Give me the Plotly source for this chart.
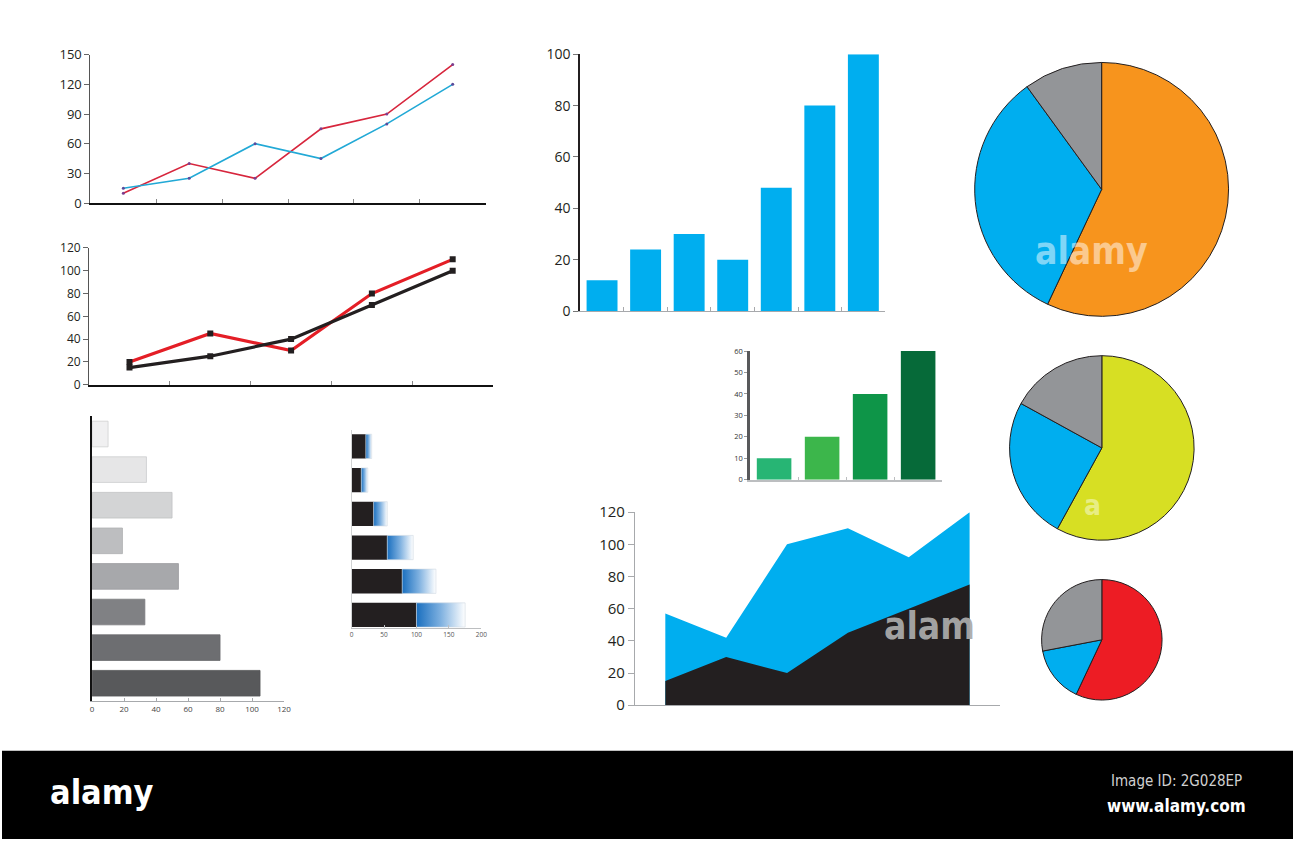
import plotly.graph_objects as go

W, H = 1300, 848
OFF = 0  # body margin is removed by the post script, so page pixels == figure pixels
FONT = "Open Sans, Noto Sans, sans-serif"
NARROW = "Liberation Sans Narrow, DejaVu Sans Condensed, Open Sans, sans-serif"
INK = "#231f20"

# ---------------- data ----------------
# chart 1: thin line chart (top-left)
line1_cats = ["P1", "P2", "P3", "P4", "P5", "P6"]
line1_red = [10, 40, 25, 75, 90, 140]
line1_blue = [15, 25, 60, 45, 80, 120]
line1_yticks = [0, 30, 60, 90, 120, 150]

# chart 2: thick line chart with square markers
line2_cats = ["Q1", "Q2", "Q3", "Q4", "Q5"]
line2_red = [20, 45, 30, 80, 110]
line2_black = [15, 25, 40, 70, 100]
line2_yticks = [0, 20, 40, 60, 80, 100, 120]

# chart 3: grey horizontal bars (top to bottom)
hbar_cats = ["H1", "H2", "H3", "H4", "H5", "H6", "H7", "H8"]
hbar_vals = [10, 34, 50, 19, 54, 33, 80, 105]
hbar_colors = ["#f0f0f1", "#e6e6e7", "#d3d4d5", "#bdbec0", "#a7a8ab", "#808184", "#6d6e71", "#58595b"]
hbar_edges = ["#cfd0d1", "#cdcecf", "#c0c1c3", "#b0b1b3", "#9a9b9e", "#7a7b7e", "#696a6d", "#545557"]
hbar_xticks = [0, 20, 40, 60, 80, 100, 120]

# chart 4: small black + gradient-blue bars (top to bottom)
stack_cats = ["S1", "S2", "S3", "S4", "S5", "S6"]
stack_black = [22, 15, 34, 55, 78, 100]
stack_total = [31, 25, 55, 95, 130, 175]
stack_xticks = [0, 50, 100, 150, 200]

# chart 5: blue column chart
col_cats = ["C1", "C2", "C3", "C4", "C5", "C6", "C7"]
col_vals = [12, 24, 30, 20, 48, 80, 100]
col_yticks = [0, 20, 40, 60, 80, 100]

# chart 6: green column chart
green_cats = ["G1", "G2", "G3", "G4"]
green_vals = [10, 20, 40, 60]
green_colors = ["#27b574", "#3cb64b", "#0e9548", "#066a39"]
green_yticks = [0, 10, 20, 30, 40, 50, 60]

# chart 7: area chart
area_cats = ["A1", "A2", "A3", "A4", "A5", "A6"]
area_blue = [57, 42, 100, 110, 92, 120]
area_black = [15, 30, 20, 45, 60, 75]
area_yticks = [0, 20, 40, 60, 80, 100, 120]

# pies (clockwise from 12 o'clock)
pie1_labels = ["Orange", "Blue", "Grey"]
pie1_vals = [57, 33, 10]
pie1_colors = ["#f7941d", "#00aeef", "#939598"]
pie2_labels = ["Yellow", "Blue", "Grey"]
pie2_vals = [58, 25, 17]
pie2_colors = ["#d7df23", "#00aeef", "#939598"]
pie3_labels = ["Red", "Blue", "Grey"]
pie3_vals = [57, 15, 28]
pie3_colors = ["#ed1c24", "#00aeef", "#939598"]


# ---------------- helpers ----------------
def px(x):
    return (x - OFF) / W


def py(y):
    return 1 - (y - OFF) / H


def xd(a, b):
    return [px(a), px(b)]


def yd(top, bottom):
    return [py(bottom), py(top)]


fig = go.Figure()

# chart 1
fig.add_trace(go.Scatter(x=line1_cats, y=line1_red, mode="lines+markers",
                         line=dict(color="#d7263d", width=1.6),
                         marker=dict(size=3, color="#7b3f8f"), xaxis="x", yaxis="y"))
fig.add_trace(go.Scatter(x=line1_cats, y=line1_blue, mode="lines+markers",
                         line=dict(color="#22a9d6", width=1.6),
                         marker=dict(size=3, color="#5b4a9b"), xaxis="x", yaxis="y"))

# chart 2
fig.add_trace(go.Scatter(x=line2_cats, y=line2_red, mode="lines+markers",
                         line=dict(color="#e41e26", width=3.2),
                         marker=dict(symbol="square", size=6, color=INK), xaxis="x2", yaxis="y2"))
fig.add_trace(go.Scatter(x=line2_cats, y=line2_black, mode="lines+markers",
                         line=dict(color=INK, width=3.2),
                         marker=dict(symbol="square", size=6, color=INK), xaxis="x2", yaxis="y2"))

# chart 3
fig.add_trace(go.Bar(x=hbar_vals, y=hbar_cats, orientation="h",
                     marker=dict(color=hbar_colors, line=dict(color=hbar_edges, width=0.8)),
                     width=0.72, xaxis="x3", yaxis="y3"))

# chart 4
stack_pos = list(range(len(stack_cats)))
half = 0.36
fig.add_trace(go.Bar(x=stack_black, y=stack_pos, orientation="h", width=2 * half,
                     marker=dict(color=INK, line=dict(width=0)), xaxis="x4", yaxis="y4"))
for i, (b, t) in enumerate(zip(stack_black, stack_total)):
    fig.add_trace(go.Scatter(x=[b, t, t, b, b], y=[i - half, i - half, i + half, i + half, i - half],
                             mode="lines", fill="toself",
                             fillgradient=dict(type="horizontal",
                                               colorscale=[[0, "#1a6fbf"], [0.5, "#7fb1e0"], [1, "#ffffff"]]),
                             line=dict(color="#cfd8e2", width=0.6), xaxis="x4", yaxis="y4"))

# chart 5
fig.add_trace(go.Bar(x=col_cats, y=col_vals, marker=dict(color="#00aeef", line=dict(width=0)),
                     width=0.71, xaxis="x5", yaxis="y5"))

# chart 6
fig.add_trace(go.Bar(x=green_cats, y=green_vals, marker=dict(color=green_colors, line=dict(width=0)),
                     width=0.72, xaxis="x6", yaxis="y6"))

# chart 7
fig.add_trace(go.Scatter(x=area_cats, y=area_blue, mode="lines", fill="tozeroy",
                         line=dict(color="#00aeef", width=0), fillcolor="#00aeef",
                         xaxis="x7", yaxis="y7"))
fig.add_trace(go.Scatter(x=area_cats, y=area_black, mode="lines", fill="tozeroy",
                         line=dict(color=INK, width=0), fillcolor=INK,
                         xaxis="x7", yaxis="y7"))


# pies
def pie(labels, vals, colors, cx, cy, r):
    return go.Pie(labels=labels, values=vals, sort=False, direction="clockwise", rotation=0,
                  marker=dict(colors=colors, line=dict(color=INK, width=1)),
                  textinfo="none", hoverinfo="none",
                  domain=dict(x=xd(cx - r, cx + r), y=yd(cy - r, cy + r)))


fig.add_trace(pie(pie1_labels, pie1_vals, pie1_colors, 1107.3, 182.7, 130))
fig.add_trace(pie(pie2_labels, pie2_vals, pie2_colors, 1107.5, 447.5, 94.5))
fig.add_trace(pie(pie3_labels, pie3_vals, pie3_colors, 1107.5, 644, 61.7))

# ---------------- axes ----------------
base = dict(showgrid=False, zeroline=False, fixedrange=True)

layout = dict(
    width=W, height=H, margin=dict(l=0, r=0, t=0, b=0),
    paper_bgcolor="white", plot_bgcolor="rgba(0,0,0,0)", hovermode=False,
    showlegend=False, font=dict(family=FONT, color=INK),
    # chart 1
    xaxis=dict(base, domain=xd(89, 487), anchor="y", type="category", range=[-0.5, 5.5],
               showline=True, linecolor="#111", linewidth=2, tickson="boundaries",
               ticks="inside", ticklen=4, tickcolor="#888", showticklabels=False),
    yaxis=dict(base, domain=yd(44.7, 196.7), anchor="x", range=[0, 150], tickvals=line1_yticks,
               showline=True, linecolor="#555", linewidth=1, ticks="outside", ticklen=5,
               tickcolor="#666", tickfont=dict(size=13, color=INK)),
    # chart 2
    xaxis2=dict(base, domain=xd(87.7, 494.5), anchor="y2", type="category", range=[-0.5, 4.5],
                showline=True, linecolor="#111", linewidth=2, tickson="boundaries",
                ticks="inside", ticklen=4, tickcolor="#888", showticklabels=False),
    yaxis2=dict(base, domain=yd(242.7, 382.7), anchor="x2", range=[0, 120], tickvals=line2_yticks,
                showline=True, linecolor="#555", linewidth=1, ticks="outside", ticklen=5,
                tickcolor="#666", tickfont=dict(size=12, color=INK)),
    # chart 3
    xaxis3=dict(base, domain=xd(90.7, 284), anchor="y3", range=[0, 120], tickvals=hbar_xticks,
                showline=True, linecolor="#a7a9ac", linewidth=1, ticks="inside", ticklen=3,
                tickcolor="#a7a9ac", tickfont=dict(size=8, color="#444")),
    yaxis3=dict(base, domain=yd(415, 706.7), anchor="x3", type="category", range=[7.5, -0.5],
                showline=True, linecolor="#111", linewidth=1.6, showticklabels=False, ticks=""),
    # chart 4
    xaxis4=dict(base, domain=xd(352, 482.7), anchor="y4", range=[0, 200], tickvals=stack_xticks,
                showline=True, linecolor="#bcbec0", linewidth=1, ticks="inside", ticklen=3,
                tickcolor="#bcbec0", tickfont=dict(size=6.5, color="#555")),
    yaxis4=dict(base, domain=yd(429.3, 631.7), anchor="x4", range=[5.38, -0.48],
                showline=True, linecolor="#d1d3d4", linewidth=1, showticklabels=False, ticks=""),
    # chart 5
    xaxis5=dict(base, domain=xd(582.3, 889.3), anchor="y5", type="category", range=[-0.5, 6.5],
                showline=True, linecolor="#a7a9ac", linewidth=1, tickson="boundaries",
                ticks="inside", ticklen=4, tickcolor="#a7a9ac", showticklabels=False),
    yaxis5=dict(base, domain=yd(44.3, 307.3), anchor="x5", range=[0, 100], tickvals=col_yticks,
                showline=True, linecolor=INK, linewidth=2, ticks="outside", ticklen=5,
                tickcolor="#777", tickfont=dict(size=14, color=INK)),
    # chart 6
    xaxis6=dict(base, domain=xd(753.3, 946.7), anchor="y6", type="category", range=[-0.5, 3.5],
                showline=True, linecolor="#bcbec0", linewidth=1.5, tickson="boundaries",
                ticks="inside", ticklen=3, tickcolor="#bcbec0", showticklabels=False),
    yaxis6=dict(base, domain=yd(348.3, 480), anchor="x6", range=[0, 60], tickvals=green_yticks,
                showline=True, linecolor="#58595b", linewidth=2.5, ticks="outside", ticklen=3,
                tickcolor="#999", tickfont=dict(size=7.5, color="#333")),
    # chart 7
    xaxis7=dict(base, domain=xd(637.3, 1005), anchor="y7", type="category", range=[-0.5, 5.5],
                showline=True, linecolor="#a7a9ac", linewidth=1, tickvals=[], showticklabels=False),
    yaxis7=dict(base, domain=yd(513.3, 711), anchor="x7", range=[0, 120], tickvals=area_yticks,
                showline=True, linecolor="#a7a9ac", linewidth=1, ticks="outside", ticklen=6,
                tickcolor="#a7a9ac", tickfont=dict(size=15, color=INK)),
)
fig.update_layout(**layout)

# banner
fig.add_shape(type="rect", xref="paper", yref="paper", x0=0, x1=1, y0=0, y1=py(757.5),
              fillcolor="black", line=dict(width=0), layer="above")

ann = []
ann.append(dict(text="<b>alamy</b>", x=px(101), y=py(800), font=dict(family=NARROW, size=34, color="white")))
ann.append(dict(text="Image ID: 2G028EP", x=px(1183), y=py(789),
                font=dict(family=NARROW, size=15, color="#d0d0d0")))
ann.append(dict(text="<b>www.alamy.com</b>", x=px(1183), y=py(814),
                font=dict(family=NARROW, size=17, color="white")))
# watermarks
ann.append(dict(text="<b>alamy</b>", x=px(1097), y=py(246),
                font=dict(family=NARROW, size=37, color="rgba(255,255,255,0.5)")))
ann.append(dict(text="<b>alam</b>", x=px(934), y=py(630),
                font=dict(family=NARROW, size=37, color="rgba(170,170,170,0.95)")))
ann.append(dict(text="<b>a</b>", x=px(1098), y=py(506),
                font=dict(family=NARROW, size=28, color="rgba(255,255,255,0.45)")))
for a in ann:
    a.update(xref="paper", yref="paper", showarrow=False, xanchor="center", yanchor="middle")
fig.update_layout(annotations=ann)

fig.write_html("out.html", config={"displayModeBar": False, "staticPlot": False},
               post_script="document.body.style.margin='0';document.body.style.overflow='hidden';")
